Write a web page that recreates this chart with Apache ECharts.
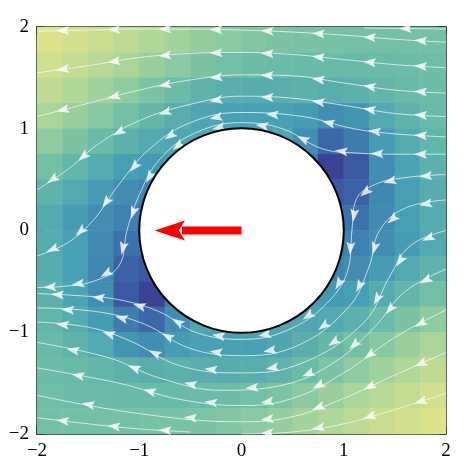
<!DOCTYPE html>
<html><head><meta charset="utf-8">
<script src="https://cdn.jsdelivr.net/npm/echarts@6/dist/echarts.min.js"></script>
<style>html,body{margin:0;padding:0;background:#fff}#c{width:474px;height:474px}</style>
</head><body><div id="c"></div>
<script>
// speed grid, rows top (y=1.875) to bottom (y=-1.875), columns x=-1.875..1.875
const speedRows = [
[1.40,1.36,1.32,1.27,1.22,1.17,1.12,1.08,1.05,1.03,1.02,1.01,1.00,1.00,1.00,1.00],
[1.35,1.30,1.25,1.20,1.14,1.08,1.03,0.99,0.97,0.96,0.95,0.95,0.95,0.96,0.97,0.98],
[1.28,1.22,1.16,1.10,1.03,0.96,0.90,0.86,0.85,0.86,0.88,0.86,0.88,0.92,0.95,0.97],
[1.20,1.14,1.07,1.00,0.93,0.86,0.80,0.76,0.76,0.76,0.72,0.62,0.68,0.82,0.90,0.95],
[1.10,1.03,0.96,0.88,0.82,0.80,0.80,0.80,0.80,0.80,0.62,0.38,0.50,0.72,0.84,0.92],
[1.00,0.92,0.84,0.75,0.70,0.75,0.80,0.80,0.80,0.80,0.50,0.15,0.30,0.62,0.78,0.88],
[0.90,0.82,0.72,0.62,0.55,0.60,0.80,0.80,0.80,0.80,0.55,0.30,0.35,0.58,0.74,0.85],
[0.82,0.72,0.62,0.52,0.45,0.50,0.80,0.80,0.80,0.80,0.60,0.48,0.45,0.60,0.74,0.84],
[0.84,0.74,0.60,0.45,0.48,0.60,0.80,0.80,0.80,0.80,0.50,0.45,0.52,0.62,0.72,0.82],
[0.85,0.74,0.58,0.35,0.30,0.55,0.80,0.80,0.80,0.80,0.60,0.55,0.62,0.72,0.82,0.90],
[0.88,0.78,0.62,0.30,0.15,0.50,0.80,0.80,0.80,0.80,0.75,0.70,0.75,0.84,0.92,1.00],
[0.92,0.84,0.72,0.50,0.38,0.62,0.80,0.80,0.80,0.80,0.80,0.82,0.88,0.96,1.03,1.10],
[0.95,0.90,0.82,0.68,0.62,0.72,0.76,0.76,0.76,0.80,0.86,0.93,1.00,1.07,1.14,1.20],
[0.97,0.95,0.92,0.88,0.86,0.88,0.86,0.85,0.86,0.90,0.96,1.03,1.10,1.16,1.22,1.28],
[0.98,0.97,0.96,0.95,0.95,0.95,0.96,0.97,0.99,1.03,1.08,1.14,1.20,1.25,1.30,1.35],
[1.00,1.00,1.00,1.00,1.01,1.02,1.03,1.05,1.08,1.12,1.17,1.22,1.27,1.32,1.36,1.40]
];
const cellX = ['-1.875','-1.625','-1.375','-1.125','-0.875','-0.625','-0.375','-0.125','0.125','0.375','0.625','0.875','1.125','1.375','1.625','1.875'];
const cellY = cellX.slice();
const tickLabels = ['−2','−1','0','1','2'];

// streamlines, listed in flow order (right to left)
const streams = [
[[2,1.85],[1.5,1.88],[1,1.92],[0.5,1.95],[0,1.97],[-0.5,1.98],[-1,1.98],[-1.5,1.97],[-2,1.96]],
[[2,1.6],[1.5,1.63],[1,1.68],[0.5,1.73],[0,1.75],[-0.5,1.74],[-1,1.7],[-1.5,1.62],[-2,1.55]],
[[2,1.35],[1.5,1.38],[1,1.45],[0.5,1.52],[0,1.53],[-0.5,1.48],[-1,1.38],[-1.5,1.25],[-2,1.12]],
[[2,1.12],[1.5,1.15],[1,1.23],[0.5,1.3],[0,1.32],[-0.5,1.24],[-1,1.08],[-1.4,0.85],[-1.7,0.6],[-2,0.4]],
[[2,0.92],[1.5,0.95],[1.1,1.0],[0.6,1.12],[0,1.16],[-0.5,1.06],[-0.9,0.8],[-1.2,0.45],[-1.45,0.1],[-1.7,-0.12],[-2,-0.25]],
[[2,0.75],[1.5,0.75],[1.15,0.76],[0.8,0.8],[0.4,1.0],[0,1.06],[-0.45,0.96],[-0.8,0.7],[-1.0,0.35],[-1.12,0.0],[-1.2,-0.35],[-1.45,-0.5],[-1.75,-0.55],[-2,-0.56]],
[[2,0.55],[1.6,0.52],[1.3,0.45],[1.12,0.3],[1.08,0.0],[1.05,-0.35],[0.85,-0.7],[0.45,-0.98],[0,-1.07],[-0.45,-1.0],[-0.8,-0.8],[-1.2,-0.68],[-1.6,-0.64],[-2,-0.62]],
[[2,0.3],[1.6,0.22],[1.35,0.0],[1.25,-0.35],[1.05,-0.75],[0.55,-1.13],[0,-1.23],[-0.5,-1.16],[-0.95,-0.92],[-1.4,-0.8],[-2,-0.76]],
[[2,0.0],[1.65,-0.15],[1.45,-0.45],[1.2,-0.9],[0.6,-1.3],[0,-1.4],[-0.6,-1.33],[-1.1,-1.08],[-1.5,-0.95],[-2,-0.9]],
[[2,-0.38],[1.6,-0.6],[1.3,-0.95],[0.9,-1.3],[0.4,-1.52],[-0.2,-1.57],[-0.8,-1.45],[-1.3,-1.25],[-2,-1.1]],
[[2,-0.78],[1.5,-1.05],[1,-1.4],[0.5,-1.65],[0,-1.72],[-0.6,-1.66],[-1.2,-1.5],[-2,-1.35]],
[[2,-1.2],[1.5,-1.42],[1,-1.65],[0.5,-1.83],[0,-1.88],[-1,-1.8],[-2,-1.62]],
[[2,-1.6],[1.5,-1.76],[1,-1.9],[0.5,-1.98],[0,-2.0]],
[[-0.5,-1.98],[-1,-1.95],[-1.5,-1.9],[-2,-1.84]],
[[2,1.98],[1.2,1.99]]
];
const cylinder = [[0,0,1]];           // center x, y, radius
const redArrow = [[0,0],[-0.85,0]];    // tail, head

const heat = [];
speedRows.forEach((row,ri)=>row.forEach((v,ci)=>heat.push([ci,15-ri,v])));

const arrows = [];
streams.forEach(s=>{
  for(let i=0;i<s.length-1;i++){
    const a=s[i],b=s[i+1];
    const ang=Math.atan2(b[1]-a[1],b[0]-a[0])*180/Math.PI;
    arrows.push({value:[(a[0]+b[0])/2,(a[1]+b[1])/2],symbolRotate:ang-90});
  }
});

const G={left:37,right:28,top:27,bottom:40};
const font='"Liberation Serif", "DejaVu Serif", serif';
const fmt=v=>tickLabels[Math.round(v)+2];
const chart=echarts.init(document.getElementById('c'));
const axisCommon={type:'value',gridIndex:1,min:-2,max:2,interval:1,splitLine:{show:false},
  axisLine:{show:true,onZero:false,lineStyle:{color:'#000',width:1.5}},
  axisTick:{inside:true,length:7,lineStyle:{color:'#000',width:1.5}}};
const lab={formatter:fmt,color:'#000',fontFamily:font,fontSize:19,margin:8};
chart.setOption({
 animation:false,
 grid:[Object.assign({},G),Object.assign({},G)],
 visualMap:{show:false,min:0.1,max:1.4,dimension:2,seriesIndex:0,
   inRange:{color:['#3a3a8f','#3b5ca4','#3e82b1','#46a0b3','#6bbca8','#a6d49a','#dde38b']}},
 xAxis:[
  {type:'category',gridIndex:0,data:cellX,show:false},
  Object.assign({},axisCommon,{position:'bottom',axisLabel:lab}),
  Object.assign({},axisCommon,{position:'top',axisLabel:{show:false}})
 ],
 yAxis:[
  {type:'category',gridIndex:0,data:cellY,show:false},
  Object.assign({},axisCommon,{position:'left',axisLabel:lab}),
  Object.assign({},axisCommon,{position:'right',axisLabel:{show:false}})
 ],
 series:[
 {type:'heatmap',xAxisIndex:0,yAxisIndex:0,data:heat,progressive:0},
 ...streams.map(s=>({type:'line',xAxisIndex:1,yAxisIndex:1,data:s,smooth:0.4,showSymbol:false,symbol:'none',
   lineStyle:{color:'rgba(255,255,255,0.85)',width:0.8},silent:true,z:3})),
 {type:'scatter',xAxisIndex:1,yAxisIndex:1,data:arrows,symbol:'path://M0,-10 L5,6 L0,3 L-5,6 Z',symbolSize:[9,13],
   itemStyle:{color:'#fff'},z:4,silent:true},
 {type:'custom',xAxisIndex:1,yAxisIndex:1,data:cylinder,z:5,silent:true,
   renderItem:(p,api)=>{const c=api.coord([api.value(0),api.value(1)]);const r=api.size([api.value(2),0])[0];
     return {type:'circle',shape:{cx:c[0],cy:c[1],r:r},style:{fill:'#fff',stroke:'#000',lineWidth:2}};}},
 {type:'custom',xAxisIndex:1,yAxisIndex:1,data:[0],z:6,silent:true,
   renderItem:(p,api)=>{const t=api.coord(redArrow[0]),h=api.coord(redArrow[1]);const L=t[0]-h[0];
     const hl=L*0.35;
     return {type:'group',children:[
      {type:'rect',shape:{x:h[0]+hl*0.9,y:t[1]-4,width:L-hl*0.9,height:8},style:{fill:'#ff0000'}},
      {type:'polygon',shape:{points:[[h[0],h[1]],[h[0]+hl,h[1]-10],[h[0]+hl*0.8,h[1]],[h[0]+hl,h[1]+10]]},style:{fill:'#ff0000'}}]};}}
 ]
});
</script></body></html>
